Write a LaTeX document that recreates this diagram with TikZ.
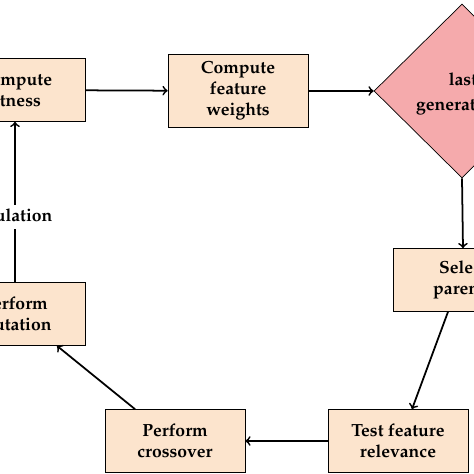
\documentclass[tikz,border=0pt]{standalone}
\usepackage[T1]{fontenc}
\usepackage{mathpazo}
\usetikzlibrary{shapes.geometric}

\definecolor{boxfill}{RGB}{252,228,205}
\definecolor{decfill}{RGB}{245,170,172}

\begin{document}
\begin{tikzpicture}[x=0.02cm, y=-0.02cm]
		% Define node styles
		\tikzstyle{process} = [rectangle, draw, fill=boxfill, minimum width=2.8cm, minimum height=1.26cm, align=center, font=\bfseries, inner ysep=4pt];
		\tikzstyle{decision} = [diamond, draw, fill=decfill, minimum width=3.52cm, minimum height=3.48cm, inner sep=0pt, align=center, font=\bfseries];
		\tikzstyle{flow} = [->, line width=1pt];
		
		\useasboundingbox (0,0) rectangle (474,474);
		\clip (0,0) rectangle (474,474);
		
		% Top row
		\node[process] (fitness) at (15,90) {Compute\\fitness};
		\node[process] (weights) at (238,91) {Compute\\feature\\weights};
		\node[decision] (lastgen) at (462,91) {};
		\node[font=\bfseries, align=center] (lastgentext) at (463,94) {last\\[2pt]generation?};
		
		% Right side
		\node[process] (parents) at (463,280) {Select\\parents};
		
		% Bottom row
		\node[process] (relevance) at (398,441) {Test feature\\relevance};
		\node[process] (crossover) at (175,441) {Perform\\crossover};
		
		% Left side
		\node[process] (mutation) at (15,314) {Perform\\mutation};
		\node[font=\bfseries, fill=white, inner sep=2pt] (population) at (8,217) {population};
		
		% Connections
		\draw[flow] (fitness) -- (weights);
		\draw[flow] (weights) -- (lastgen);
		\draw[flow] (lastgen.south) -- (parents.north);
		\draw[flow] ([xshift=-0.3cm]parents.south) -- ([xshift=0.28cm]relevance.north);
		\draw[flow] (relevance) -- (crossover);
		\draw[flow] ([xshift=-0.8cm]crossover.north) -- ([xshift=0.84cm]mutation.south);
		\draw[line width=1pt] (mutation.north) -- (mutation.north |- population.south);
		\draw[flow] (mutation.north |- population.north) -- (fitness.south);
	\end{tikzpicture}
\end{document}
